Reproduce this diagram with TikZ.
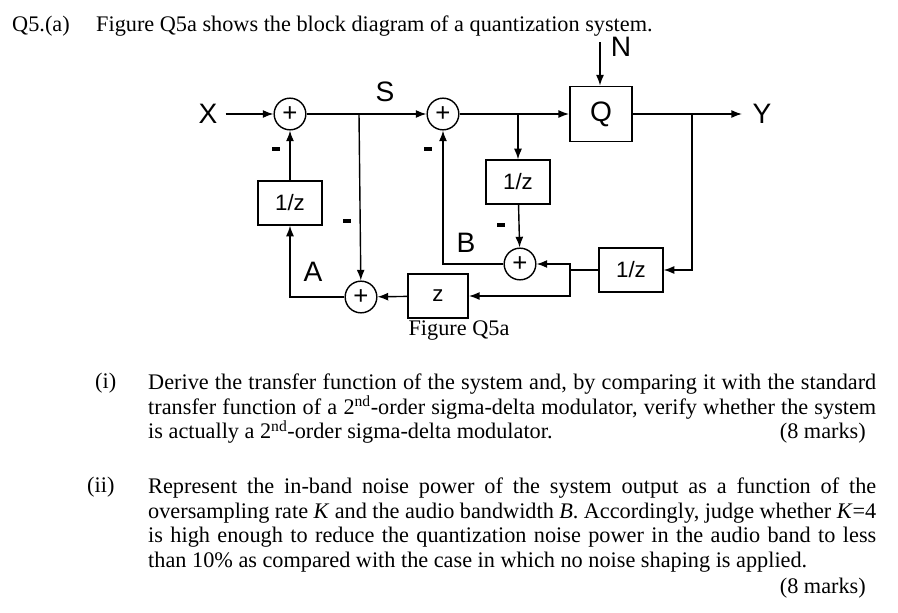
\documentclass[tikz,border=0pt]{standalone}
\usepackage{fontspec}
\setmainfont{Liberation Serif}
\newfontfamily\diagfont{Liberation Sans}
\usetikzlibrary{positioning,arrows.meta}
\hyphenpenalty=10000\relax
\exhyphenpenalty=10000\relax

\tikzset{
  sumnode/.style = {circle, draw, line width=1.2pt, minimum size=0.95cm, inner sep=0pt, font=\diagfont\fontsize{22}{22}\selectfont},
  delay/.style = {rectangle, draw, line width=1.6pt, minimum width=1.9cm, minimum height=1.3cm, font=\diagfont\fontsize{19}{19}\selectfont},
  lbl/.style = {font=\diagfont\fontsize{24}{24}\selectfont, inner sep=0pt},
  sig/.style = {line width=1.2pt, -{Latex[length=3.2mm,width=2.4mm]}},
  wire/.style = {line width=1.2pt},
  minus/.style = {fill, minimum width=0.26cm, minimum height=0.13cm, inner sep=0pt},
  para/.style = {text width=21.84cm, align=justify, anchor=north west, inner sep=0pt, font=\fontsize{19}{20.8}\selectfont},
  txt/.style = {inner sep=0pt, font=\fontsize{19}{20.8}\selectfont}
}

\begin{document}
\begin{tikzpicture}[x=0.03cm, y=-0.03cm]
  \useasboundingbox (0,0) rectangle (898,612);

  % question text
  \node[txt, anchor=west] (qnum) at (12,26) {Q5.(a)};
  \node[txt, anchor=west] (intro) at (96,26) {Figure Q5a shows the block diagram of a quantization system.};

  % blocks
  \node[lbl] (x) at (208,114) {X};
  \node[sumnode] (sumA) at (290,114) {+};
  \node[sumnode] (sumS) at (443,114) {+};
  \node[rectangle, draw, line width=1.6pt, minimum width=1.86cm, minimum height=1.65cm, font=\diagfont\fontsize{24}{24}\selectfont] (quant) at (601,114) {Q};
  \node[lbl] (n) at (621,47) {N};
  \coordinate (nIn) at (600,42);
  \coordinate (yOut) at (742,114);
  \node[lbl] (y) at (762,114) {Y};
  \node[lbl] (s) at (385,92) {S};

  \node[delay] (dA) at (290,203) {1/z};
  \node[delay] (dB) at (518,182) {1/z};
  \node[delay] (dY) at (631,270) {1/z};
  \node[delay, minimum width=1.8cm] (adv) at (438,296) {z};
  \node[sumnode] (sumL) at (361,297) {+};
  \node[sumnode] (sumB) at (520,264) {+};
  \node[lbl] (a) at (313,272) {A};
  \node[lbl] (b) at (466,243) {B};

  \coordinate (brS) at (359,114);
  \coordinate (brQ) at (518,114);
  \coordinate (brY) at (692,114);
  \coordinate (brD) at (570,270);

  % connectors
  \draw[sig] (x.east) ++(8,0) -- (sumA);
  \draw[sig] (sumA) -- (sumS);
  \draw[sig] (sumS) -- (quant);
  \draw[sig] (nIn) -- (quant.north -| nIn);
  \draw[sig] (quant) -- (yOut);
  \draw[sig] (brS) -- (sumL);
  \draw[sig] (brQ) -- (dB);
  \draw[sig] (dB) -- (sumB);
  \draw[sig] (brY) |- (dY);
  \draw[wire] (dY) -- (brD);
  \draw[sig] (brD) |- (sumB);
  \draw[sig] (brD) |- (adv);
  \draw[sig] (adv) -- (sumL);
  \draw[sig] (sumL) -| (dA);
  \draw[sig] (dA) -- (sumA);
  \draw[sig] (sumB) -| (sumS);

  % minus signs
  \node[minus] (mA) at (276,149) {};
  \node[minus] (mS) at (428,149) {};
  \node[minus] (mL) at (347,221) {};
  \node[minus] (mB) at (501,225) {};

  \node[txt] (cap) at (459,331) {Figure Q5a};

  % parts
  \node[txt, anchor=west] (pi) at (95,383) {(i)};
  \node[para] (ti) at (148,374) {Derive the transfer function of the system and, by comparing it with the standard transfer function of a 2\textsuperscript{nd}-order sigma-delta modulator, verify whether the system is actually a 2\textsuperscript{nd}-order sigma-delta modulator.};
  \node[txt, anchor=east] (mki) at (866,433) {(8 marks)};
  \node[txt, anchor=west] (pii) at (87,487) {(ii)};
  \node[para] (tii) at (148,478) {Represent the in-band noise power of the system output as a function of the oversampling rate \textit{K} and the audio bandwidth \textit{B}. Accordingly, judge whether \textit{K}=4 is high enough to reduce the quantization noise power in the audio band to less\linebreak than 10\% as compared with the case in which no noise shaping is applied.};
  \node[txt, anchor=east] (mkii) at (866,588) {(8 marks)};
\end{tikzpicture}
\end{document}
